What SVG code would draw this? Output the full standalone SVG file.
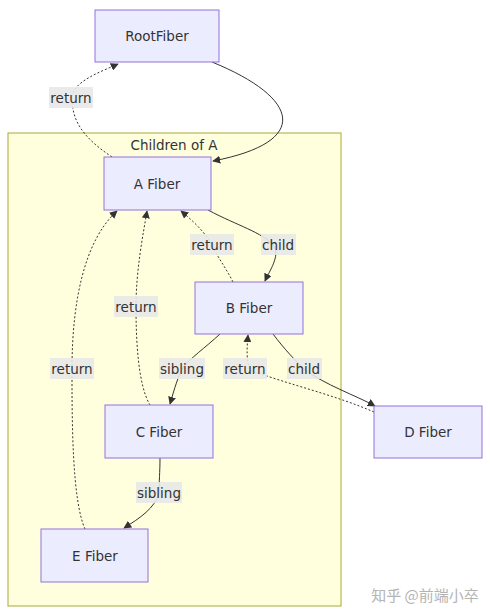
<svg xmlns="http://www.w3.org/2000/svg" width="490" height="616" viewBox="0 0 490 616">
<defs>
<style>
.node rect{fill:#ECECFF;stroke:#9370DB;stroke-width:1}
text{font-family:"DejaVu Sans","Liberation Sans",sans-serif;font-size:13.5px;fill:#333;text-anchor:middle;dominant-baseline:central}
.edge{fill:none;stroke:#333;stroke-width:1}
.dash{stroke-dasharray:2 2}
.lbl rect{fill:#e8e8e8;opacity:0.9}
</style>
<marker id="arr" viewBox="0 0 10 10" refX="9" refY="5" markerWidth="8" markerHeight="8" orient="auto" markerUnits="userSpaceOnUse">
<path d="M0,0 L10,5 L0,10 z" fill="#333"/>
</marker>
</defs>
<rect width="490" height="616" fill="#fff"/>
<g id="cluster">
<rect x="8" y="133" width="333" height="473" fill="#ffffde" stroke="#aaaa33" stroke-width="1"/>
<text x="174" y="145">Children of A</text>
</g>
<g id="connectors">
<path class="edge" d="M212,62 C300,98 312,142 213,161" marker-end="url(#arr)"/>
<path class="edge dash" d="M112,157 C82,137 72,120 72,98 C72,82 100,72 118,64" marker-end="url(#arr)"/>
<path class="edge" d="M208,210 C238,226 262,232 274,246 C280,256 270,270 265,281" marker-end="url(#arr)"/>
<path class="edge dash" d="M233,282 C226,268 218,258 212,245 C205,232 192,220 181,211" marker-end="url(#arr)"/>
<path class="edge" d="M220,334 C205,348 190,358 182,369 C176,382 173,394 170,404" marker-end="url(#arr)"/>
<path class="edge" d="M273,334 C285,350 295,360 304,369 C325,385 355,395 375,406" marker-end="url(#arr)"/>
<path class="edge dash" d="M374,412 C335,395 290,385 250,370 C246,360 247,348 248,335" marker-end="url(#arr)"/>
<path class="edge dash" d="M150,405 C138,385 136,340 136,307 C136,270 143,235 147,211" marker-end="url(#arr)"/>
<path class="edge dash" d="M85,529 C72,500 72,420 72,369 C72,300 85,240 117,211" marker-end="url(#arr)"/>
<path class="edge" d="M160,458 C160,472 159,482 159,493 C155,508 140,518 124,528" marker-end="url(#arr)"/>
<g class="lbl"><rect x="49" y="87" width="44" height="21"/><text x="71" y="98">return</text></g>
<g class="lbl"><rect x="190" y="234" width="44" height="21"/><text x="212" y="245">return</text></g>
<g class="lbl"><rect x="261" y="234" width="35" height="21"/><text x="278" y="245">child</text></g>
<g class="lbl"><rect x="114" y="296" width="44" height="21"/><text x="136" y="307">return</text></g>
<g class="lbl"><rect x="159" y="358" width="46" height="21"/><text x="182" y="369">sibling</text></g>
<g class="lbl"><rect x="223" y="358" width="44" height="21"/><text x="245" y="369">return</text></g>
<g class="lbl"><rect x="287" y="358" width="35" height="21"/><text x="304" y="369">child</text></g>
<g class="lbl"><rect x="50" y="358" width="44" height="21"/><text x="72" y="369">return</text></g>
<g class="lbl"><rect x="136" y="482" width="46" height="21"/><text x="159" y="493">sibling</text></g>
</g>
<g id="RootFiber" class="node"><rect x="95" y="10" width="124" height="52"/><text x="157" y="36">RootFiber</text></g>
<g id="A" class="node"><rect x="104" y="157" width="107" height="53"/><text x="157" y="184">A Fiber</text></g>
<g id="B" class="node"><rect x="195" y="282" width="108" height="52"/><text x="249" y="308">B Fiber</text></g>
<g id="C" class="node"><rect x="105" y="405" width="108" height="53"/><text x="159" y="432">C Fiber</text></g>
<g id="D" class="node"><rect x="374" y="406" width="108" height="52"/><text x="428" y="432">D Fiber</text></g>
<g id="E" class="node"><rect x="41" y="529" width="107" height="53"/><text x="95" y="556">E Fiber</text></g>
<text x="425" y="594" style="font-family:'Noto Sans CJK SC','DejaVu Sans',sans-serif;font-size:15px;fill:#b4b4b4">知乎 @前端小卒</text>
</svg>
